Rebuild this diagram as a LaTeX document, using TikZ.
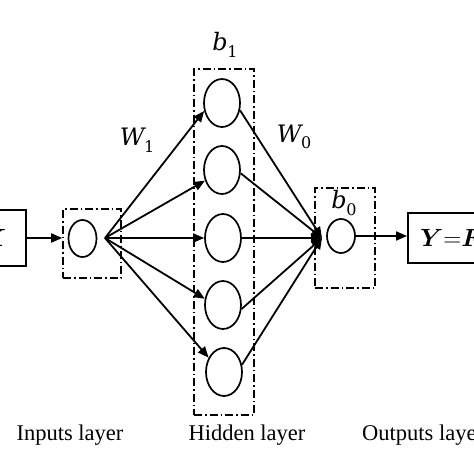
\documentclass[tikz,border=0pt]{standalone}
\usepackage{fontspec}
\setmainfont{Liberation Serif}
\newfontfamily\lblfont{DejaVu Serif}
\usepackage{amsmath}
\usetikzlibrary{arrows.meta,shapes.geometric}
\newcommand{\lblsub}[2]{{\lblfont\itshape #1}\kern-0.02em\raisebox{-0.28em}{\lblfont\fontsize{16}{18}\selectfont #2}}
\begin{document}
\begin{tikzpicture}[x=1pt,y=-1pt,
 neuron/.style={draw,ellipse,line width=1.7pt,inner sep=0pt},
 hid/.style={neuron,minimum width=36pt,minimum height=48pt},
 dbox/.style={draw,line width=1.6pt,inner sep=0pt,dash pattern=on 8pt off 3pt on 1.5pt off 3pt},
 solidbox/.style={draw,line width=1.8pt,inner sep=0pt},
 con/.style={line width=1.8pt,-{Triangle[length=11pt,width=9pt]}},
 lab/.style={font=\fontsize{22.5}{27}\selectfont},
 mlab/.style={font=\fontsize{24}{28}\selectfont,inner sep=0pt},
 ]
\useasboundingbox (0,0) rectangle (474,474);
\clip (0,0) rectangle (474,474);
\fill[white] (0,0) rectangle (474,474);

% left input box (cut off)
\node[solidbox,minimum width=46pt,minimum height=56pt] (inbox) at (3,238) {};
\node[mlab,anchor=east] (xtext) at (7,238) {$\boldsymbol{X}$};

% input layer
\node[dbox,minimum width=58pt,minimum height=69pt] (ibox) at (92,243.5) {};
\node[neuron,minimum width=28pt,minimum height=37pt] (in) at (82.5,238.5) {};
\coordinate (fan) at (105,238);

% hidden layer
\node[dbox,minimum width=60pt,minimum height=346pt] (hbox) at (224,242) {};
\node[hid] (h1) at (222,103) {};
\node[hid] (h2) at (222,170) {};
\node[hid] (h3) at (223,238) {};
\node[hid] (h4) at (223,305) {};
\node[hid] (h5) at (224,372) {};

% output layer
\node[dbox,minimum width=60pt,minimum height=100pt] (obox) at (345,238) {};
\node[neuron,minimum width=28pt,minimum height=34pt] (on) at (341,236) {};
\coordinate (conv) at (322,238);

% right output box (cut off)
\node[solidbox,minimum width=82pt,minimum height=50pt] (rbox) at (449,238) {};
\node[mlab,anchor=west] (ytext) at (420,238) {$\boldsymbol{Y}{=}\boldsymbol{F}$};

% connectors
\draw[con] (inbox.east) -- (inbox.east -| ibox.west);
\draw[con] (fan) -- (h1.204);
\draw[con] (fan) -- (h2.212);
\draw[con] (fan) -- (h3.180);
\draw[con] (fan) -- (h4.161);
\draw[con] (fan) -- (h5.137);
\draw[con] (h1.-22) -- (conv);
\draw[con] (h2.-10) -- (conv);
\draw[con] (h3.0) -- (conv);
\draw[con] (h4.-12) -- (conv);
\draw[con] (h5.22) -- (conv);
\draw[con] (on.east) -- (on.east -| rbox.west);

% labels
\node[mlab] (b1) at (225,45) {\lblsub{b}{1}};
\node[mlab] (w1) at (137,140) {\lblsub{W}{1}};
\node[mlab] (w0) at (294,137) {\lblsub{W}{0}};
\node[mlab] (b0) at (344,203) {\lblsub{b}{0}};

\node[lab] (il) at (70,435) {Inputs layer};
\node[lab] (hl) at (247,435) {Hidden layer};
\node[lab,anchor=west,inner sep=0pt] (ol) at (362,435) {Outputs layer};
\end{tikzpicture}
\end{document}
